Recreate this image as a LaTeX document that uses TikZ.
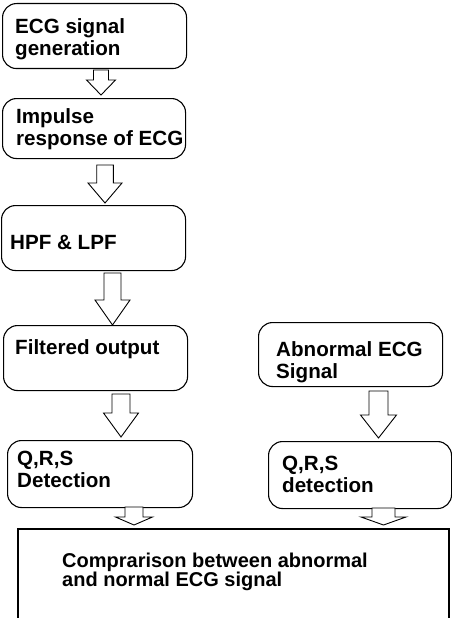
\documentclass[tikz,border=0pt]{standalone}
\usepackage{fontspec}
\setmainfont{Liberation Sans}
\newcommand\blockarr[6]{% cx, top, base, tip, shaft half width, head half width
  \draw[barr] ({#1-#5},#2) -- ({#1+#5},#2) -- ({#1+#5},#3) -- ({#1+#6},#3)
    -- (#1,#4) -- ({#1-#6},#3) -- ({#1-#5},#3) -- cycle;}
\begin{document}
\begin{tikzpicture}[x=1pt,y=-1pt,
  box/.style={draw, line width=1.1pt, rounded corners=14pt, inner sep=0pt, anchor=north west},
  bigbox/.style={draw, line width=1.6pt, inner sep=0pt, anchor=north west},
  txt/.style={font=\bfseries\fontsize{20.6}{22}\selectfont, align=left, inner sep=0pt, anchor=north west},
  barr/.style={draw, line width=0.9pt, fill=white, line join=miter}]
\useasboundingbox (0,0) rectangle (452,618);
\clip (0,0) rectangle (452,618);
\fill[white] (0,0) rectangle (452,618);

% boxes
\node[box, minimum width=184pt, minimum height=65pt] (b1) at (2,3) {};
\node[box, minimum width=183pt, minimum height=60pt] (b2) at (2,98) {};
\node[box, minimum width=184pt, minimum height=65pt] (b3) at (1,205) {};
\node[box, minimum width=184pt, minimum height=65pt] (b4) at (3,325) {};
\node[box, minimum width=184pt, minimum height=64pt] (b5) at (258,322) {};
\node[box, minimum width=185pt, minimum height=67pt] (b6) at (7,440) {};
\node[box, minimum width=183pt, minimum height=67pt] (b7) at (268,441) {};
\node[bigbox, minimum width=431pt, minimum height=110pt] (b8) at (17,528) {};

% texts
\node[txt] (t1) at (15,18.4) {ECG signal\\generation};
\node[txt] (t2) at (16,108.4) {Impulse\\response of ECG};
\node[txt] (t3) at (10,235.4) {HPF \& LPF};
\node[txt] (t4) at (15,339.4) {Filtered output};
\node[txt] (t5) at (276,341.1) {Abnormal ECG\\Signal};
\node[txt] (t6) at (17,451.1) {Q,R,S\\Detection};
\node[txt] (t7) at (282,456.3) {Q,R,S\\detection};
\node[txt, font=\bfseries\fontsize{20}{18.5}\selectfont] (t8) at (62,552.3)
  {Comprarison between abnormal\\and normal ECG signal};

% block arrows
\blockarr{101}{70}{80}{95}{7.5}{14.5}
\blockarr{105}{165}{183}{203}{8.3}{17}
\blockarr{112.5}{273}{300}{325}{8.5}{17.5}
\blockarr{121}{394}{413}{437}{9}{17.5}
\blockarr{378.5}{391}{415}{438}{9.5}{18}
\blockarr{134}{507}{517}{525}{9}{18.5}
\blockarr{383.5}{508}{517}{525}{11.5}{22.5}
\end{tikzpicture}
\end{document}
